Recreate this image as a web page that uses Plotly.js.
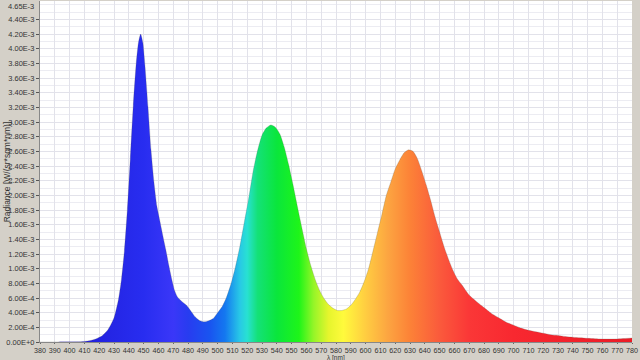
<!DOCTYPE html>
<html>
<head>
<meta charset="utf-8">
<script src="https://cdn.plot.ly/plotly-3.0.1.min.js"></script>
<style>html,body{margin:0;padding:0;background:#d4d0c8;}#chart{width:640px;height:360px;}</style>
</head>
<body>
<div id="chart"></div>
<script>
const wavelengths = [380,390,400,405,410,414,418,422,426,430,433,435,437,439,441,443,445,446.5,448,449.5,451,453,455,457,459,461,463,465,467,469,471,473,476,479,482,485,488,491,494,497,500,503,506,509,512,515,518,521,524,527,530,533,536,539,542,545,548,551,554,557,560,563,566,569,572,575,578,581,584,587,590,593,596,599,602,605,608,611,614,617,620,623,626,629,632,635,638,641,644,647,650,653,656,659,662,665,670,675,680,685,690,695,700,705,710,715,720,725,730,735,740,745,750,755,760,765,770,775,780];
const radiance = [0,0,0.000002,0.000004,0.000008,0.00002,0.000045,0.000085,0.00017,0.00033,0.00058,0.00085,0.00124,0.0018,0.0025,0.00322,0.0038,0.00408,0.0042,0.00408,0.00375,0.0032,0.00262,0.00218,0.00185,0.00165,0.00145,0.00126,0.00105,0.00086,0.0007,0.00061,0.00055,0.0005,0.00042,0.00034,0.00029,0.000275,0.00029,0.00032,0.0004,0.00048,0.00061,0.00079,0.00102,0.0013,0.00163,0.00196,0.00233,0.00261,0.00282,0.00292,0.00296,0.00293,0.00284,0.00266,0.00242,0.00214,0.00184,0.00155,0.00127,0.00104,0.00085,0.0007,0.00059,0.00051,0.00046,0.00043,0.00043,0.00045,0.0005,0.00058,0.00068,0.00082,0.001,0.00124,0.00149,0.00174,0.002,0.00218,0.00236,0.00248,0.00258,0.00262,0.0026,0.0025,0.00233,0.00214,0.00193,0.0017,0.0015,0.0013,0.00113,0.00098,0.00086,0.00078,0.00064,0.00055,0.00047,0.00039,0.00033,0.00027,0.00023,0.00019,0.00016,0.00014,0.00012,0.0001,0.00009,0.000075,0.000065,0.000057,0.00005,0.000045,0.000041,0.00004,0.000042,0.000048,0.000055];

const xTickVals = [380,390,400,410,420,430,440,450,460,470,480,490,500,510,520,530,540,550,560,570,580,590,600,610,620,630,640,650,660,670,680,690,700,710,720,730,740,750,760,770,780];
const yTickVals = [0,0.0002,0.0004,0.0006,0.0008,0.001,0.0012,0.0014,0.0016,0.0018,0.002,0.0022,0.0024,0.0026,0.0028,0.003,0.0032,0.0034,0.0036,0.0038,0.004,0.0042,0.0044];
const yTickText = ["0.00E+0","2.00E-4","4.00E-4","6.00E-4","8.00E-4","1.00E-3","1.20E-3","1.40E-3","1.60E-3","1.80E-3","2.00E-3","2.20E-3","2.40E-3","2.60E-3","2.80E-3","3.00E-3","3.20E-3","3.40E-3","3.60E-3","3.80E-3","4.00E-3","4.20E-3","4.40E-3"];
const yTopVal = 0.00465;
const yTopText = "4.65E-3";

const specStops = [380,420,450,470,480,495,505,515,520,527,540,555,565,575,585,600,615,630,650,670,700,780];
const specColors = ["rgb(40,20,200)","rgb(35,35,225)","rgb(40,45,240)","rgb(58,55,248)","rgb(40,60,240)","rgb(25,85,240)","rgb(20,120,240)","rgb(40,200,230)","rgb(40,225,210)","rgb(20,225,120)","rgb(10,230,60)","rgb(30,245,25)","rgb(150,245,40)","rgb(230,245,45)","rgb(255,250,60)","rgb(255,205,65)","rgb(252,165,65)","rgb(252,130,55)","rgb(250,90,60)","rgb(250,55,55)","rgb(248,40,48)","rgb(235,28,38)"];
const xMin = 380, xMax = 780, yMax = 0.00465;
const colorscale = specStops.map((s,i)=>[(s-xMin)/(xMax-xMin), specColors[i]]);

const trace = {
  type: 'scatter', mode: 'lines',
  x: wavelengths, y: radiance,
  line: {shape: 'spline', smoothing: 0.6, width: 0.6, color: 'rgba(80,80,70,0.35)'},
  fill: 'tozeroy',
  fillgradient: {type: 'horizontal', colorscale: colorscale, start: xMin, stop: xMax},
  hoverinfo: 'skip'
};

const gridC = 'rgb(226,226,234)';
const fontF = 'Liberation Sans, Arial, sans-serif';
const layout = {
  width: 640, height: 360,
  margin: {l: 40, r: 8, t: 1, b: 18},
  paper_bgcolor: '#d4d0c8',
  plot_bgcolor: '#ffffff',
  showlegend: false,
  font: {family: fontF, size: 7, color: '#333333'},
  xaxis: {
    range: [xMin, xMax], tickmode: 'array', tickvals: xTickVals, tickangle: 0,
    ticks: 'outside', ticklen: 1, tickcolor: '#666', tickfont: {size: 7.2, color: '#333'},
    showgrid: true, gridcolor: gridC, gridwidth: 1, zeroline: false,
    showline: true, linecolor: '#888', linewidth: 1, fixedrange: true
  },
  yaxis: {
    range: [0, yMax], tickmode: 'array', tickvals: yTickVals, ticktext: yTickText,
    ticks: 'outside', ticklen: 3, tickcolor: '#555', tickfont: {size: 7.5, color: '#333'},
    showgrid: true, gridcolor: gridC, gridwidth: 1, zeroline: false,
    minor: {tickmode: 'linear', tick0: 0, dtick: 0.0001, showgrid: true, gridcolor: 'rgb(236,236,242)', ticklen: 0},
    showline: true, linecolor: '#888', linewidth: 1, fixedrange: true
  },
  annotations: [
    {text: yTopText, xref: 'paper', yref: 'y', x: 0, y: yTopVal, xanchor: 'right', yanchor: 'top',
     xshift: -4, yshift: 1, showarrow: false, font: {size: 7.5, color: '#333'}},
    {text: 'Radiance [W/(sr*sqm*nm)]', xref: 'paper', yref: 'paper', x: -0.056, y: 0.5,
     textangle: -90, showarrow: false, font: {size: 8.5, color: '#333'}, xanchor: 'center', yanchor: 'middle'},
    {text: 'λ [nm]', xref: 'paper', yref: 'paper', x: 0.5, y: 0, yshift: -15.6, showarrow: false,
     font: {size: 6.5, color: '#333'}, xanchor: 'center', yanchor: 'middle'}
  ]
};

Plotly.newPlot('chart', [trace], layout, {staticPlot: true, displayModeBar: false});
</script>
</body>
</html>
